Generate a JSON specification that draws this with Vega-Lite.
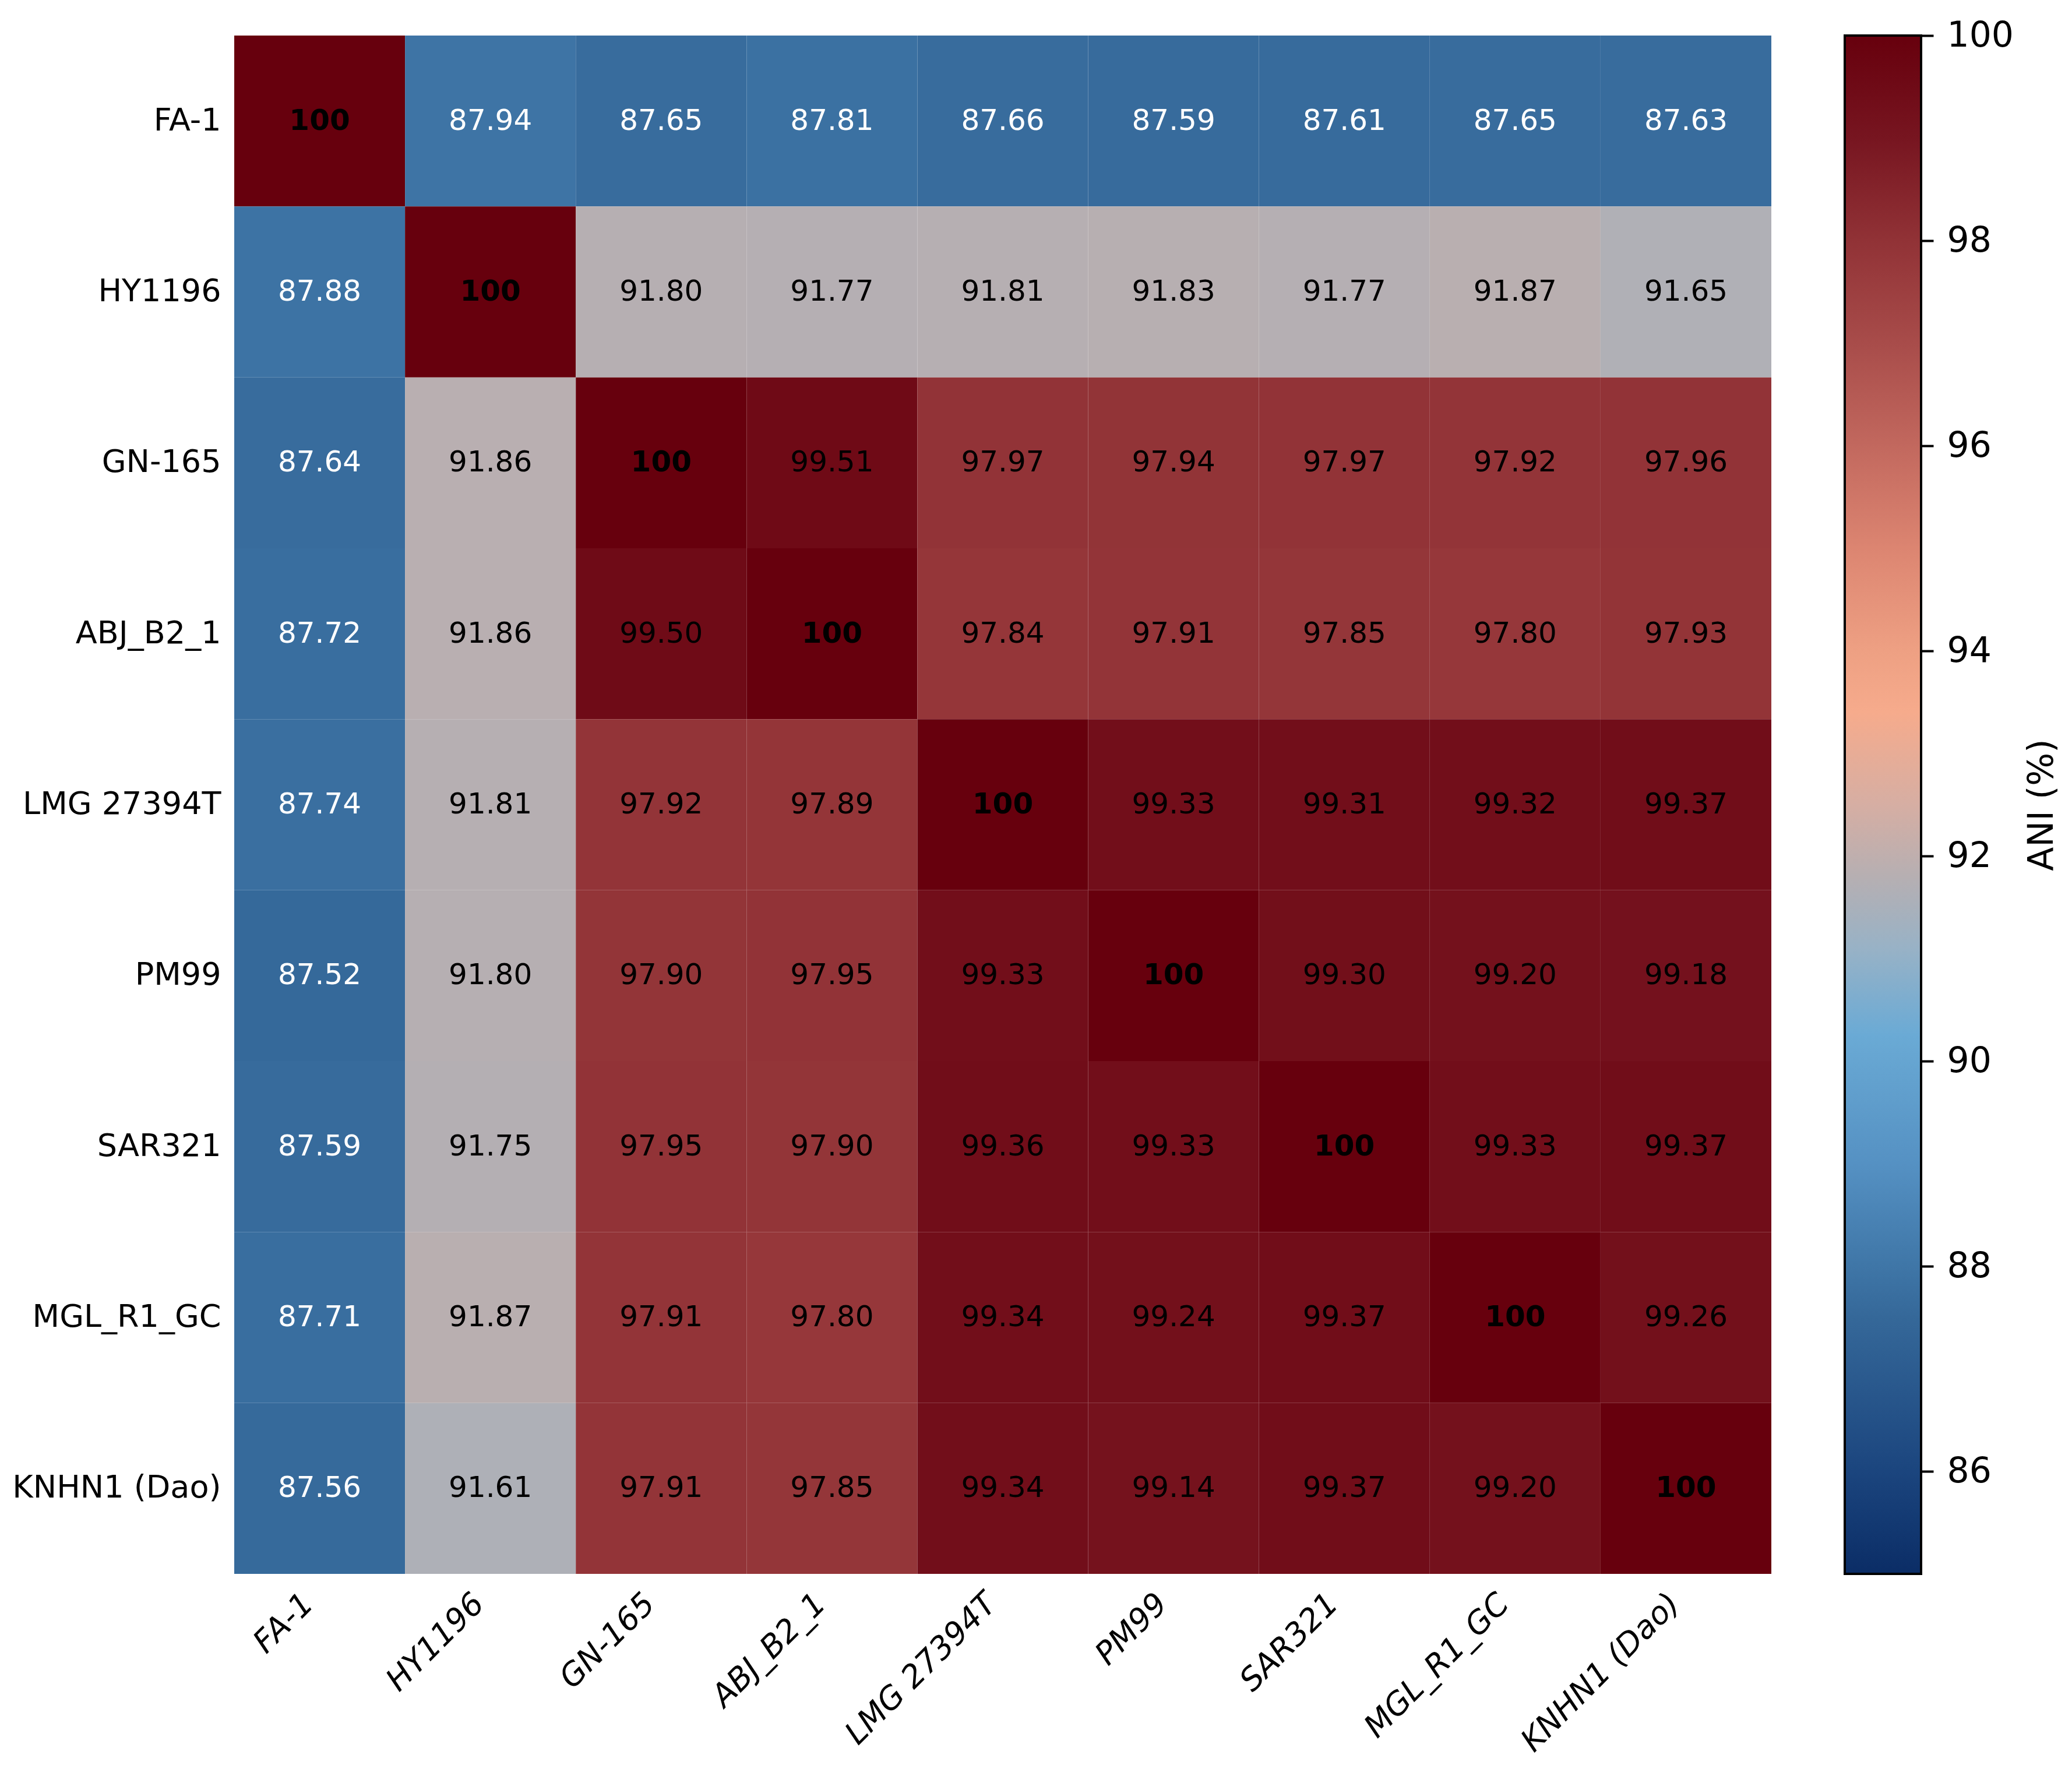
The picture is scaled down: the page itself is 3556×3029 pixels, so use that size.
{
  "$schema": "https://vega.github.io/schema/vega-lite/v6.json",
  "background": "white",
  "padding": {"left": 20, "top": 31, "right": 19, "bottom": 14},
  "spacing": 124,
  "config": {
    "view": {"stroke": null},
    "font": "DejaVu Sans",
    "axis": {"labelColor": "black", "titleColor": "black", "labelFont": "DejaVu Sans", "titleFont": "DejaVu Sans"}
  },
  "datasets": {
    "ani": [
      {"query": "FA-1", "target": "FA-1", "ani": 100},
      {"query": "FA-1", "target": "HY1196", "ani": 87.94},
      {"query": "FA-1", "target": "GN-165", "ani": 87.65},
      {"query": "FA-1", "target": "ABJ_B2_1", "ani": 87.81},
      {"query": "FA-1", "target": "LMG 27394T", "ani": 87.66},
      {"query": "FA-1", "target": "PM99", "ani": 87.59},
      {"query": "FA-1", "target": "SAR321", "ani": 87.61},
      {"query": "FA-1", "target": "MGL_R1_GC", "ani": 87.65},
      {"query": "FA-1", "target": "KNHN1 (Dao)", "ani": 87.63},

      {"query": "HY1196", "target": "FA-1", "ani": 87.88},
      {"query": "HY1196", "target": "HY1196", "ani": 100},
      {"query": "HY1196", "target": "GN-165", "ani": 91.80},
      {"query": "HY1196", "target": "ABJ_B2_1", "ani": 91.77},
      {"query": "HY1196", "target": "LMG 27394T", "ani": 91.81},
      {"query": "HY1196", "target": "PM99", "ani": 91.83},
      {"query": "HY1196", "target": "SAR321", "ani": 91.77},
      {"query": "HY1196", "target": "MGL_R1_GC", "ani": 91.87},
      {"query": "HY1196", "target": "KNHN1 (Dao)", "ani": 91.65},

      {"query": "GN-165", "target": "FA-1", "ani": 87.64},
      {"query": "GN-165", "target": "HY1196", "ani": 91.86},
      {"query": "GN-165", "target": "GN-165", "ani": 100},
      {"query": "GN-165", "target": "ABJ_B2_1", "ani": 99.51},
      {"query": "GN-165", "target": "LMG 27394T", "ani": 97.97},
      {"query": "GN-165", "target": "PM99", "ani": 97.94},
      {"query": "GN-165", "target": "SAR321", "ani": 97.97},
      {"query": "GN-165", "target": "MGL_R1_GC", "ani": 97.92},
      {"query": "GN-165", "target": "KNHN1 (Dao)", "ani": 97.96},

      {"query": "ABJ_B2_1", "target": "FA-1", "ani": 87.72},
      {"query": "ABJ_B2_1", "target": "HY1196", "ani": 91.86},
      {"query": "ABJ_B2_1", "target": "GN-165", "ani": 99.50},
      {"query": "ABJ_B2_1", "target": "ABJ_B2_1", "ani": 100},
      {"query": "ABJ_B2_1", "target": "LMG 27394T", "ani": 97.84},
      {"query": "ABJ_B2_1", "target": "PM99", "ani": 97.91},
      {"query": "ABJ_B2_1", "target": "SAR321", "ani": 97.85},
      {"query": "ABJ_B2_1", "target": "MGL_R1_GC", "ani": 97.80},
      {"query": "ABJ_B2_1", "target": "KNHN1 (Dao)", "ani": 97.93},

      {"query": "LMG 27394T", "target": "FA-1", "ani": 87.74},
      {"query": "LMG 27394T", "target": "HY1196", "ani": 91.81},
      {"query": "LMG 27394T", "target": "GN-165", "ani": 97.92},
      {"query": "LMG 27394T", "target": "ABJ_B2_1", "ani": 97.89},
      {"query": "LMG 27394T", "target": "LMG 27394T", "ani": 100},
      {"query": "LMG 27394T", "target": "PM99", "ani": 99.33},
      {"query": "LMG 27394T", "target": "SAR321", "ani": 99.31},
      {"query": "LMG 27394T", "target": "MGL_R1_GC", "ani": 99.32},
      {"query": "LMG 27394T", "target": "KNHN1 (Dao)", "ani": 99.37},

      {"query": "PM99", "target": "FA-1", "ani": 87.52},
      {"query": "PM99", "target": "HY1196", "ani": 91.80},
      {"query": "PM99", "target": "GN-165", "ani": 97.90},
      {"query": "PM99", "target": "ABJ_B2_1", "ani": 97.95},
      {"query": "PM99", "target": "LMG 27394T", "ani": 99.33},
      {"query": "PM99", "target": "PM99", "ani": 100},
      {"query": "PM99", "target": "SAR321", "ani": 99.30},
      {"query": "PM99", "target": "MGL_R1_GC", "ani": 99.20},
      {"query": "PM99", "target": "KNHN1 (Dao)", "ani": 99.18},

      {"query": "SAR321", "target": "FA-1", "ani": 87.59},
      {"query": "SAR321", "target": "HY1196", "ani": 91.75},
      {"query": "SAR321", "target": "GN-165", "ani": 97.95},
      {"query": "SAR321", "target": "ABJ_B2_1", "ani": 97.90},
      {"query": "SAR321", "target": "LMG 27394T", "ani": 99.36},
      {"query": "SAR321", "target": "PM99", "ani": 99.33},
      {"query": "SAR321", "target": "SAR321", "ani": 100},
      {"query": "SAR321", "target": "MGL_R1_GC", "ani": 99.33},
      {"query": "SAR321", "target": "KNHN1 (Dao)", "ani": 99.37},

      {"query": "MGL_R1_GC", "target": "FA-1", "ani": 87.71},
      {"query": "MGL_R1_GC", "target": "HY1196", "ani": 91.87},
      {"query": "MGL_R1_GC", "target": "GN-165", "ani": 97.91},
      {"query": "MGL_R1_GC", "target": "ABJ_B2_1", "ani": 97.80},
      {"query": "MGL_R1_GC", "target": "LMG 27394T", "ani": 99.34},
      {"query": "MGL_R1_GC", "target": "PM99", "ani": 99.24},
      {"query": "MGL_R1_GC", "target": "SAR321", "ani": 99.37},
      {"query": "MGL_R1_GC", "target": "MGL_R1_GC", "ani": 100},
      {"query": "MGL_R1_GC", "target": "KNHN1 (Dao)", "ani": 99.26},

      {"query": "KNHN1 (Dao)", "target": "FA-1", "ani": 87.56},
      {"query": "KNHN1 (Dao)", "target": "HY1196", "ani": 91.61},
      {"query": "KNHN1 (Dao)", "target": "GN-165", "ani": 97.91},
      {"query": "KNHN1 (Dao)", "target": "ABJ_B2_1", "ani": 97.85},
      {"query": "KNHN1 (Dao)", "target": "LMG 27394T", "ani": 99.34},
      {"query": "KNHN1 (Dao)", "target": "PM99", "ani": 99.14},
      {"query": "KNHN1 (Dao)", "target": "SAR321", "ani": 99.37},
      {"query": "KNHN1 (Dao)", "target": "MGL_R1_GC", "ani": 99.20},
      {"query": "KNHN1 (Dao)", "target": "KNHN1 (Dao)", "ani": 100}
    ],
    "colorbar": [
      {"lo": 85, "hi": 100}
    ]
  },
  "hconcat": [
    {
      "width": 2638,
      "height": 2640,
      "data": {"name": "ani"},
      "encoding": {
        "x": {
          "field": "target",
          "type": "nominal",
          "sort": ["FA-1", "HY1196", "GN-165", "ABJ_B2_1", "LMG 27394T", "PM99", "SAR321", "MGL_R1_GC", "KNHN1 (Dao)"],
          "axis": {
            "title": null,
            "orient": "bottom",
            "labelFontSize": 54,
            "labelFontStyle": "italic",
            "labelAngle": -45,
            "labelAlign": "right",
            "labelBaseline": "bottom",
            "labelPadding": 62,
            "ticks": false,
            "tickSize": 0,
            "domain": false,
            "labelOverlap": false,
            "labelBound": false,
            "labelLimit": 0
          }
        },
        "y": {
          "field": "query",
          "type": "nominal",
          "sort": ["FA-1", "HY1196", "GN-165", "ABJ_B2_1", "LMG 27394T", "PM99", "SAR321", "MGL_R1_GC", "KNHN1 (Dao)"],
          "axis": {
            "title": null,
            "labelFontSize": 54,
            "labelPadding": 23,
            "labelAngle": 0,
            "ticks": false,
            "tickSize": 0,
            "domain": false,
            "labelOverlap": false,
            "labelLimit": 0
          }
        }
      },
      "layer": [
        {
          "mark": {"type": "rect"},
          "encoding": {
            "color": {
              "field": "ani",
              "type": "quantitative",
              "scale": {
                "domain": [85, 86, 87.5, 88, 89, 90.25, 91.1, 91.8, 92.5, 93.4, 94, 95, 96, 97, 98, 99, 100],
                "range": ["#0b2d66", "#1b457e", "#356899", "#3f76a7", "#5591c3", "#6aaad5", "#98b2c6", "#b6afb2", "#d6aea3", "#f6ab8c", "#eea083", "#dc8571", "#c2685e", "#a84c4a", "#913236", "#771520", "#67000d"],
                "interpolate": "rgb",
                "clamp": true
              },
              "legend": null
            }
          }
        },
        {
          "transform": [{"filter": "datum.ani < 100"}],
          "mark": {"type": "text", "fontSize": 50, "font": "DejaVu Sans"},
          "encoding": {
            "text": {"field": "ani", "type": "quantitative", "format": ".2f"},
            "color": {"condition": {"test": "datum.ani < 89", "value": "white"}, "value": "black"}
          }
        },
        {
          "transform": [{"filter": "datum.ani >= 100"}],
          "mark": {"type": "text", "fontSize": 50, "font": "DejaVu Sans", "fontWeight": "bold", "color": "black"},
          "encoding": {
            "text": {"field": "ani", "type": "quantitative", "format": ".0f"}
          }
        }
      ]
    },
    {
      "width": 131,
      "height": 2640,
      "data": {"name": "colorbar"},
      "mark": {
        "type": "rect",
        "fill": {
          "gradient": "linear",
          "x1": 0, "y1": 1, "x2": 0, "y2": 0,
          "stops": [
            {"offset": 0, "color": "#0b2d66"},
            {"offset": 0.0667, "color": "#1b457e"},
            {"offset": 0.1667, "color": "#356899"},
            {"offset": 0.2, "color": "#3f76a7"},
            {"offset": 0.2667, "color": "#5591c3"},
            {"offset": 0.35, "color": "#6aaad5"},
            {"offset": 0.4067, "color": "#98b2c6"},
            {"offset": 0.4533, "color": "#b6afb2"},
            {"offset": 0.5, "color": "#d6aea3"},
            {"offset": 0.56, "color": "#f6ab8c"},
            {"offset": 0.6, "color": "#eea083"},
            {"offset": 0.6667, "color": "#dc8571"},
            {"offset": 0.7333, "color": "#c2685e"},
            {"offset": 0.8, "color": "#a84c4a"},
            {"offset": 0.8667, "color": "#913236"},
            {"offset": 0.9333, "color": "#771520"},
            {"offset": 1, "color": "#67000d"}
          ]
        },
        "stroke": "black",
        "strokeWidth": 4
      },
      "encoding": {
        "x": {"value": 0},
        "x2": {"value": "width"},
        "y": {
          "field": "lo",
          "type": "quantitative",
          "scale": {"domain": [85, 100], "nice": false, "zero": false},
          "axis": {
            "orient": "right",
            "values": [86, 88, 90, 92, 94, 96, 98, 100],
            "tickSize": 21,
            "tickWidth": 4,
            "tickColor": "black",
            "domain": false,
            "grid": false,
            "labelFontSize": 60,
            "labelPadding": 23,
            "labelFlush": false,
            "labelOverlap": false,
            "title": "ANI (%)",
            "titleFontSize": 60,
            "titleFontWeight": "normal",
            "titleAngle": 270,
            "titleBaseline": "top",
            "titlePadding": 20
          }
        },
        "y2": {"field": "hi"}
      }
    }
  ]
}
